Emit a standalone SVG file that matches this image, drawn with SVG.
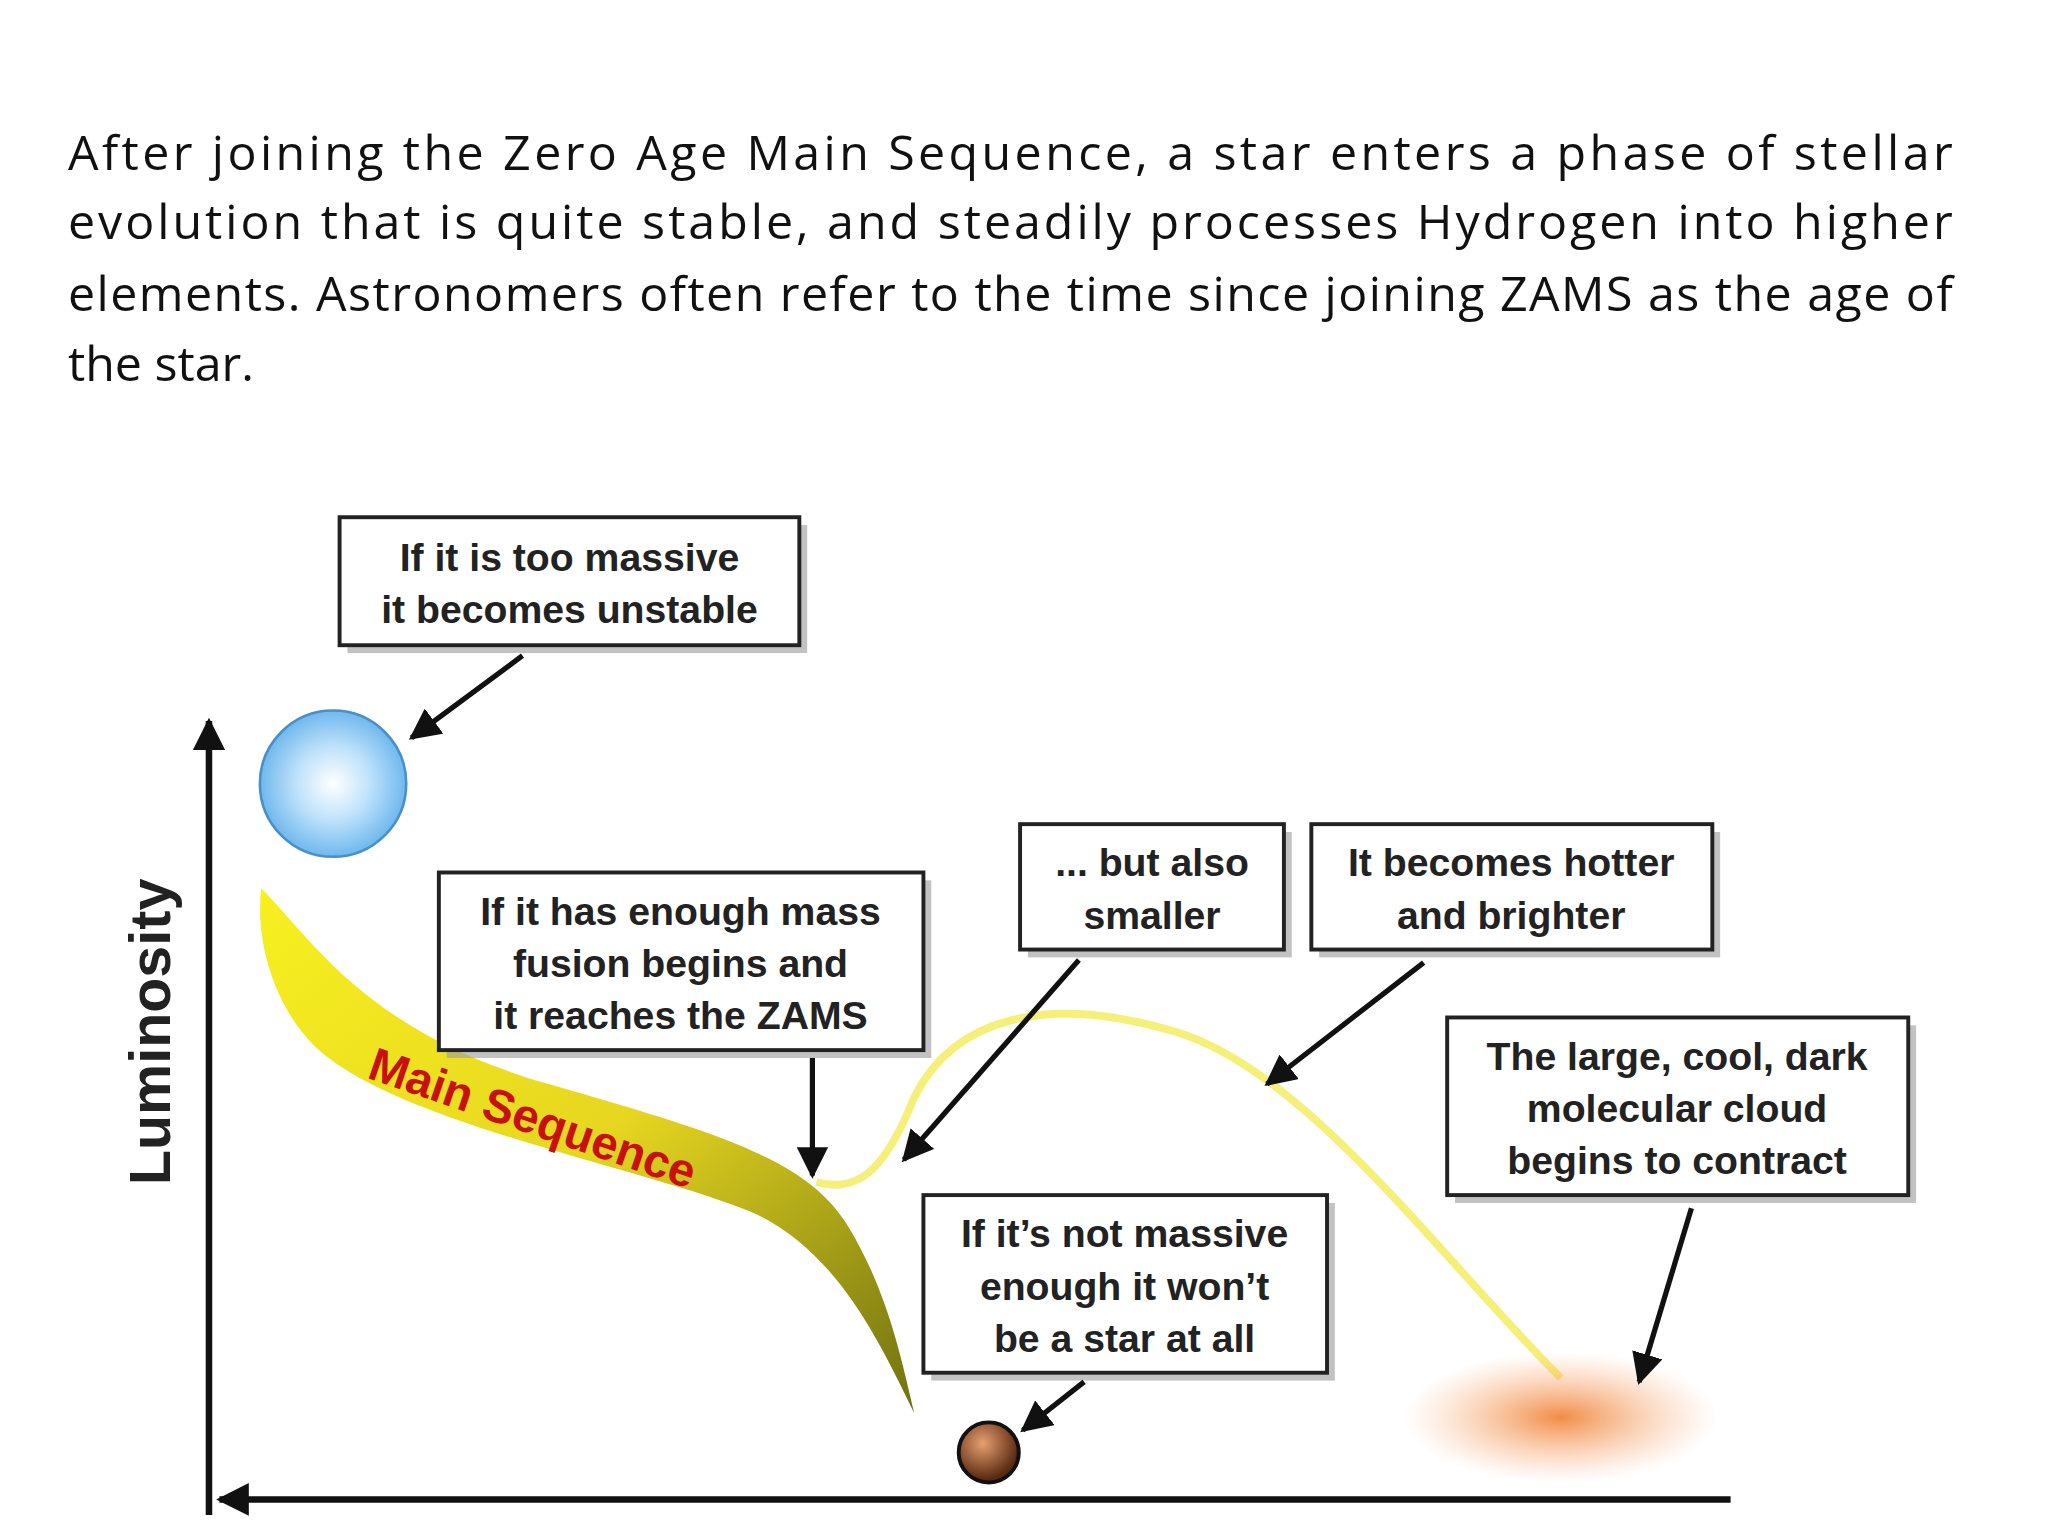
<svg xmlns="http://www.w3.org/2000/svg" width="2048" height="1536" viewBox="0 0 2048 1536">
<style>
.p{font-family:"Open Sans","Liberation Sans",sans-serif;font-size:37px;fill:#111}
.b{font-family:"Liberation Sans",Arial,sans-serif;font-weight:bold;font-size:30px;fill:#222;text-anchor:middle}
.box{fill:#fff;stroke:#222;stroke-width:3}
.sh{fill:#999;opacity:0.6}
.ar{stroke:#111;stroke-width:4;fill:none;marker-end:url(#ah)}
</style>
<defs>
<marker id="ah" viewBox="0 0 10 10" refX="9" refY="5" markerWidth="6" markerHeight="6" orient="auto"><path d="M0,0 L10,5 L0,10 z" fill="#111"/></marker>
<marker id="ax" viewBox="0 0 10 10" refX="9" refY="5" markerWidth="5" markerHeight="5" orient="auto"><path d="M0,0 L10,5 L0,10 z" fill="#111"/></marker>
<radialGradient id="blue" cx="0.5" cy="0.5" r="0.5"><stop offset="0" stop-color="#ffffff"/><stop offset="0.5" stop-color="#bfe2fb"/><stop offset="1" stop-color="#6fb8ee"/></radialGradient>
<radialGradient id="brown" cx="0.4" cy="0.35" r="0.6"><stop offset="0" stop-color="#e8a070"/><stop offset="1" stop-color="#5a2a10"/></radialGradient>
<radialGradient id="cloud"><stop offset="0" stop-color="#f08030" stop-opacity="0.9"/><stop offset="1" stop-color="#f8b080" stop-opacity="0"/></radialGradient>
<linearGradient id="ms" x1="0" y1="0" x2="1" y2="1"><stop offset="0" stop-color="#f8f020"/><stop offset="0.5" stop-color="#e6d620"/><stop offset="1" stop-color="#707010"/></linearGradient>
</defs>
<rect width="2048" height="1536" fill="#fff"/>
<g transform="scale(1.30612)">
<g id="paragraph">
<text class="p" x="52" y="130" textLength="1443" lengthAdjust="spacing">After joining the Zero Age Main Sequence,  a star enters a phase of stellar</text>
<text class="p" x="52" y="183" textLength="1443" lengthAdjust="spacing">evolution that is quite stable, and steadily processes Hydrogen into higher</text>
<text class="p" x="52" y="238" textLength="1443" lengthAdjust="spacing">elements. Astronomers often refer to the time since joining ZAMS as the age of</text>
<text class="p" x="52" y="292">the star.</text>
</g>
<g id="axes">
<line x1="160" y1="1160" x2="160" y2="552" stroke="#111" stroke-width="5" marker-end="url(#ax)"/>
<line x1="1325" y1="1148" x2="168" y2="1148" stroke="#111" stroke-width="5" marker-end="url(#ax)"/>
<text x="130" y="790" transform="rotate(-90 130 790)" font-family="Liberation Sans,Arial,sans-serif" font-weight="bold" font-size="44" text-anchor="middle" fill="#222">Luminosity</text>
</g>
<g id="main-sequence">
<path d="M200,680 C240,720 280,790 420,830 C560,870 620,890 650,940 C680,990 690,1040 700,1082 C670,1020 640,960 580,930 C500,895 300,860 240,800 C210,770 195,720 200,680 Z" fill="url(#ms)"/>
<text x="280" y="825" transform="rotate(19 280 825)" font-family="Liberation Sans,Arial,sans-serif" font-weight="bold" font-size="36" fill="#c8100f">Main Sequence</text>
</g>
<path id="track" d="M1195,1055 C1100,960 1000,820 900,790 C800,760 730,780 700,840 C680,890 660,915 625,905" fill="none" stroke="#f5f07a" stroke-width="6"/>
<ellipse id="cloud-blob" cx="1195" cy="1085" rx="120" ry="50" fill="url(#cloud)"/>
<circle id="blue-star" cx="255" cy="600" r="56" fill="url(#blue)" stroke="#4a90c8" stroke-width="2"/>
<circle id="brown-dwarf" cx="757" cy="1112" r="23" fill="url(#brown)" stroke="#111" stroke-width="3"/>
<g id="b1"><rect class="sh" x="266" y="402" width="352" height="98"/><rect class="box" x="260" y="396" width="352" height="98"/><text class="b" x="436" y="437">If it is too massive</text><text class="b" x="436" y="477">it becomes unstable</text></g>
<g id="b2"><rect class="sh" x="342" y="674" width="371" height="136"/><rect class="box" x="336" y="668" width="371" height="136"/><text class="b" x="521" y="708">If it has enough mass</text><text class="b" x="521" y="748">fusion begins and</text><text class="b" x="521" y="788">it reaches the ZAMS</text></g>
<g id="b3"><rect class="sh" x="787" y="637" width="202" height="96"/><rect class="box" x="781" y="631" width="202" height="96"/><text class="b" x="882" y="671">... but also</text><text class="b" x="882" y="711">smaller</text></g>
<g id="b4"><rect class="sh" x="1010" y="637" width="307" height="96"/><rect class="box" x="1004" y="631" width="307" height="96"/><text class="b" x="1157" y="671">It becomes hotter</text><text class="b" x="1157" y="711">and brighter</text></g>
<g id="b5"><rect class="sh" x="1114" y="785" width="353" height="136"/><rect class="box" x="1108" y="779" width="353" height="136"/><text class="b" x="1284" y="819">The large, cool, dark</text><text class="b" x="1284" y="859">molecular cloud</text><text class="b" x="1284" y="899">begins to contract</text></g>
<g id="b6"><rect class="sh" x="713" y="921" width="309" height="136"/><rect class="box" x="707" y="915" width="309" height="136"/><text class="b" x="861" y="955">If it’s not massive</text><text class="b" x="861" y="995">enough it won’t</text><text class="b" x="861" y="1035">be a star at all</text></g>
<g id="connectors">
<line class="ar" x1="400" y1="502" x2="315" y2="565"/>
<line class="ar" x1="622" y1="810" x2="622" y2="900"/>
<line class="ar" x1="826" y1="735" x2="692" y2="888"/>
<line class="ar" x1="1090" y1="737" x2="970" y2="830"/>
<line class="ar" x1="1295" y1="925" x2="1255" y2="1058"/>
<line class="ar" x1="830" y1="1058" x2="783" y2="1095"/>
</g>
</g>
</svg>
